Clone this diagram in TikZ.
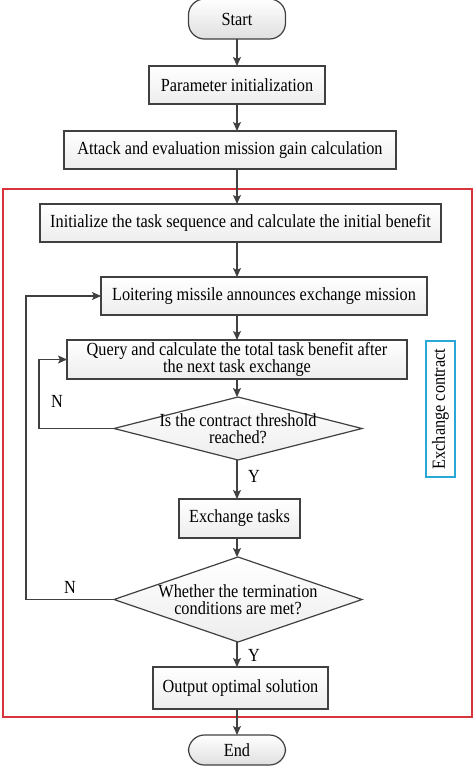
\documentclass[tikz,border=0pt]{standalone}
\usepackage{fontspec}
\setmainfont{Liberation Serif}[FakeStretch=0.88]
\usepackage{xcolor}
\usetikzlibrary{positioning,shapes.geometric,arrows.meta,calc}
\newcommand{\flowfont}{\fontsize{18.5}{16.5}\selectfont}
\definecolor{linegray}{HTML}{404040}
\definecolor{framered}{HTML}{D8343C}
\definecolor{framecyan}{HTML}{2AA7D6}
\tikzstyle{process}=[rectangle, draw=linegray, line width=1.2pt, top color=white, bottom color=gray!14,
        minimum height=38pt, inner sep=2pt, outer sep=0pt, align=center, font=\flowfont]
\tikzstyle{terminal}=[rectangle, draw=linegray, line width=1.2pt, rounded corners=16pt, top color=white,
        bottom color=gray!25, outer sep=0pt, align=center, font=\flowfont]
\tikzstyle{decision}=[diamond, draw=linegray, line width=1.2pt, top color=white, bottom color=gray!14,
        aspect=3, inner sep=-12pt, outer sep=0pt, minimum width=248pt, align=center, font=\flowfont]
\tikzstyle{flow}=[draw=linegray, line width=1.2pt, -{Stealth[length=9pt,width=8pt,inset=2pt]}]
\tikzstyle{branchlabel}=[font=\flowfont, inner sep=0pt]

\begin{document}
\begin{tikzpicture}[x=1pt, y=1pt]
        \useasboundingbox (0,0) rectangle (474,-766);
        % exchange contract frame
        \draw[framered, line width=1.5pt] (3,-189) rectangle (472,-717);

        \node (start) [terminal, minimum width=97pt, minimum height=40pt] at (237,-19) {Start};
        \node (param) [process, minimum width=176pt, below=27pt of start] {Parameter initialization};
        \node (attack) [process, minimum width=332pt, below=27pt of param, xshift=-7pt]
        {Attack and evaluation mission gain calculation};
        \node (init) [process, minimum width=401pt, below=35pt of attack, xshift=10.5pt]
        {Initialize the task sequence and calculate the initial benefit};
        \node (loit) [process, minimum width=326pt, below=35pt of init, xshift=23.5pt]
        {Loitering missile announces exchange mission};
        \node (query) [process, minimum width=340pt, minimum height=39pt, below=25pt of loit, xshift=-27pt]
        {Query and calculate the total task benefit after\\the next task exchange};
        \node (dec1) [decision, minimum height=63pt, below=18pt of query, xshift=1pt]
        {Is the contract threshold\\reached?};
        \node (exch) [process, minimum width=121pt, minimum height=39pt, below=39pt of dec1, xshift=1.5pt]
        {Exchange tasks};
        \node (dec2) [decision, minimum height=85pt, below=19pt of exch, xshift=-1.5pt]
        {Whether the termination\\conditions are met?};
        \node (output) [process, minimum width=175pt, minimum height=42pt, below=25pt of dec2, xshift=2.5pt]
        {Output optimal solution};
        \node (end) [terminal, minimum width=97pt, minimum height=30pt, below=26pt of output, xshift=-3.5pt] {End};

        \node (contract) [draw=framecyan, line width=1.5pt, rotate=90, minimum width=136pt, minimum height=29pt,
          inner sep=0pt, font=\flowfont] at (440.5,-409) {Exchange contract};

        % main line
        \draw[flow] (start) -- (param);
        \draw[flow] (param.south) -- (param.south |- attack.north);
        \draw[flow] (attack.south -| start) -- (init.north -| start);
        \draw[flow] (init.south -| start) -- (loit.north -| start);
        \draw[flow] (loit.south -| start) -- (query.north -| start);
        \draw[flow] (query.south -| start) -- (dec1.north -| start);
        \draw[flow] (dec1.south -| start) -- (exch.north -| start);
        \draw[flow] (exch.south -| start) -- (dec2.north -| start);
        \draw[flow] (dec2.south -| start) -- (output.north -| start);
        \draw[flow] (output.south -| start) -- (end.north -| start);

        % loops back
        \draw[flow] (dec1.west) -- ++(-75,0) |- (query.west);
        \draw[flow] (dec2.west) -- ++(-88,0) |- (loit.west);

        \node (n1) [branchlabel] at ($(dec1.west)+(-57,27)$) {N};
        \node (n2) [branchlabel] at ($(dec2.west)+(-44,12)$) {N};
        \node (y1) [branchlabel] at ($(dec1.south)+(16,-16)$) {Y};
        \node (y2) [branchlabel] at ($(dec2.south)+(16,-13)$) {Y};
\end{tikzpicture}
\end{document}
